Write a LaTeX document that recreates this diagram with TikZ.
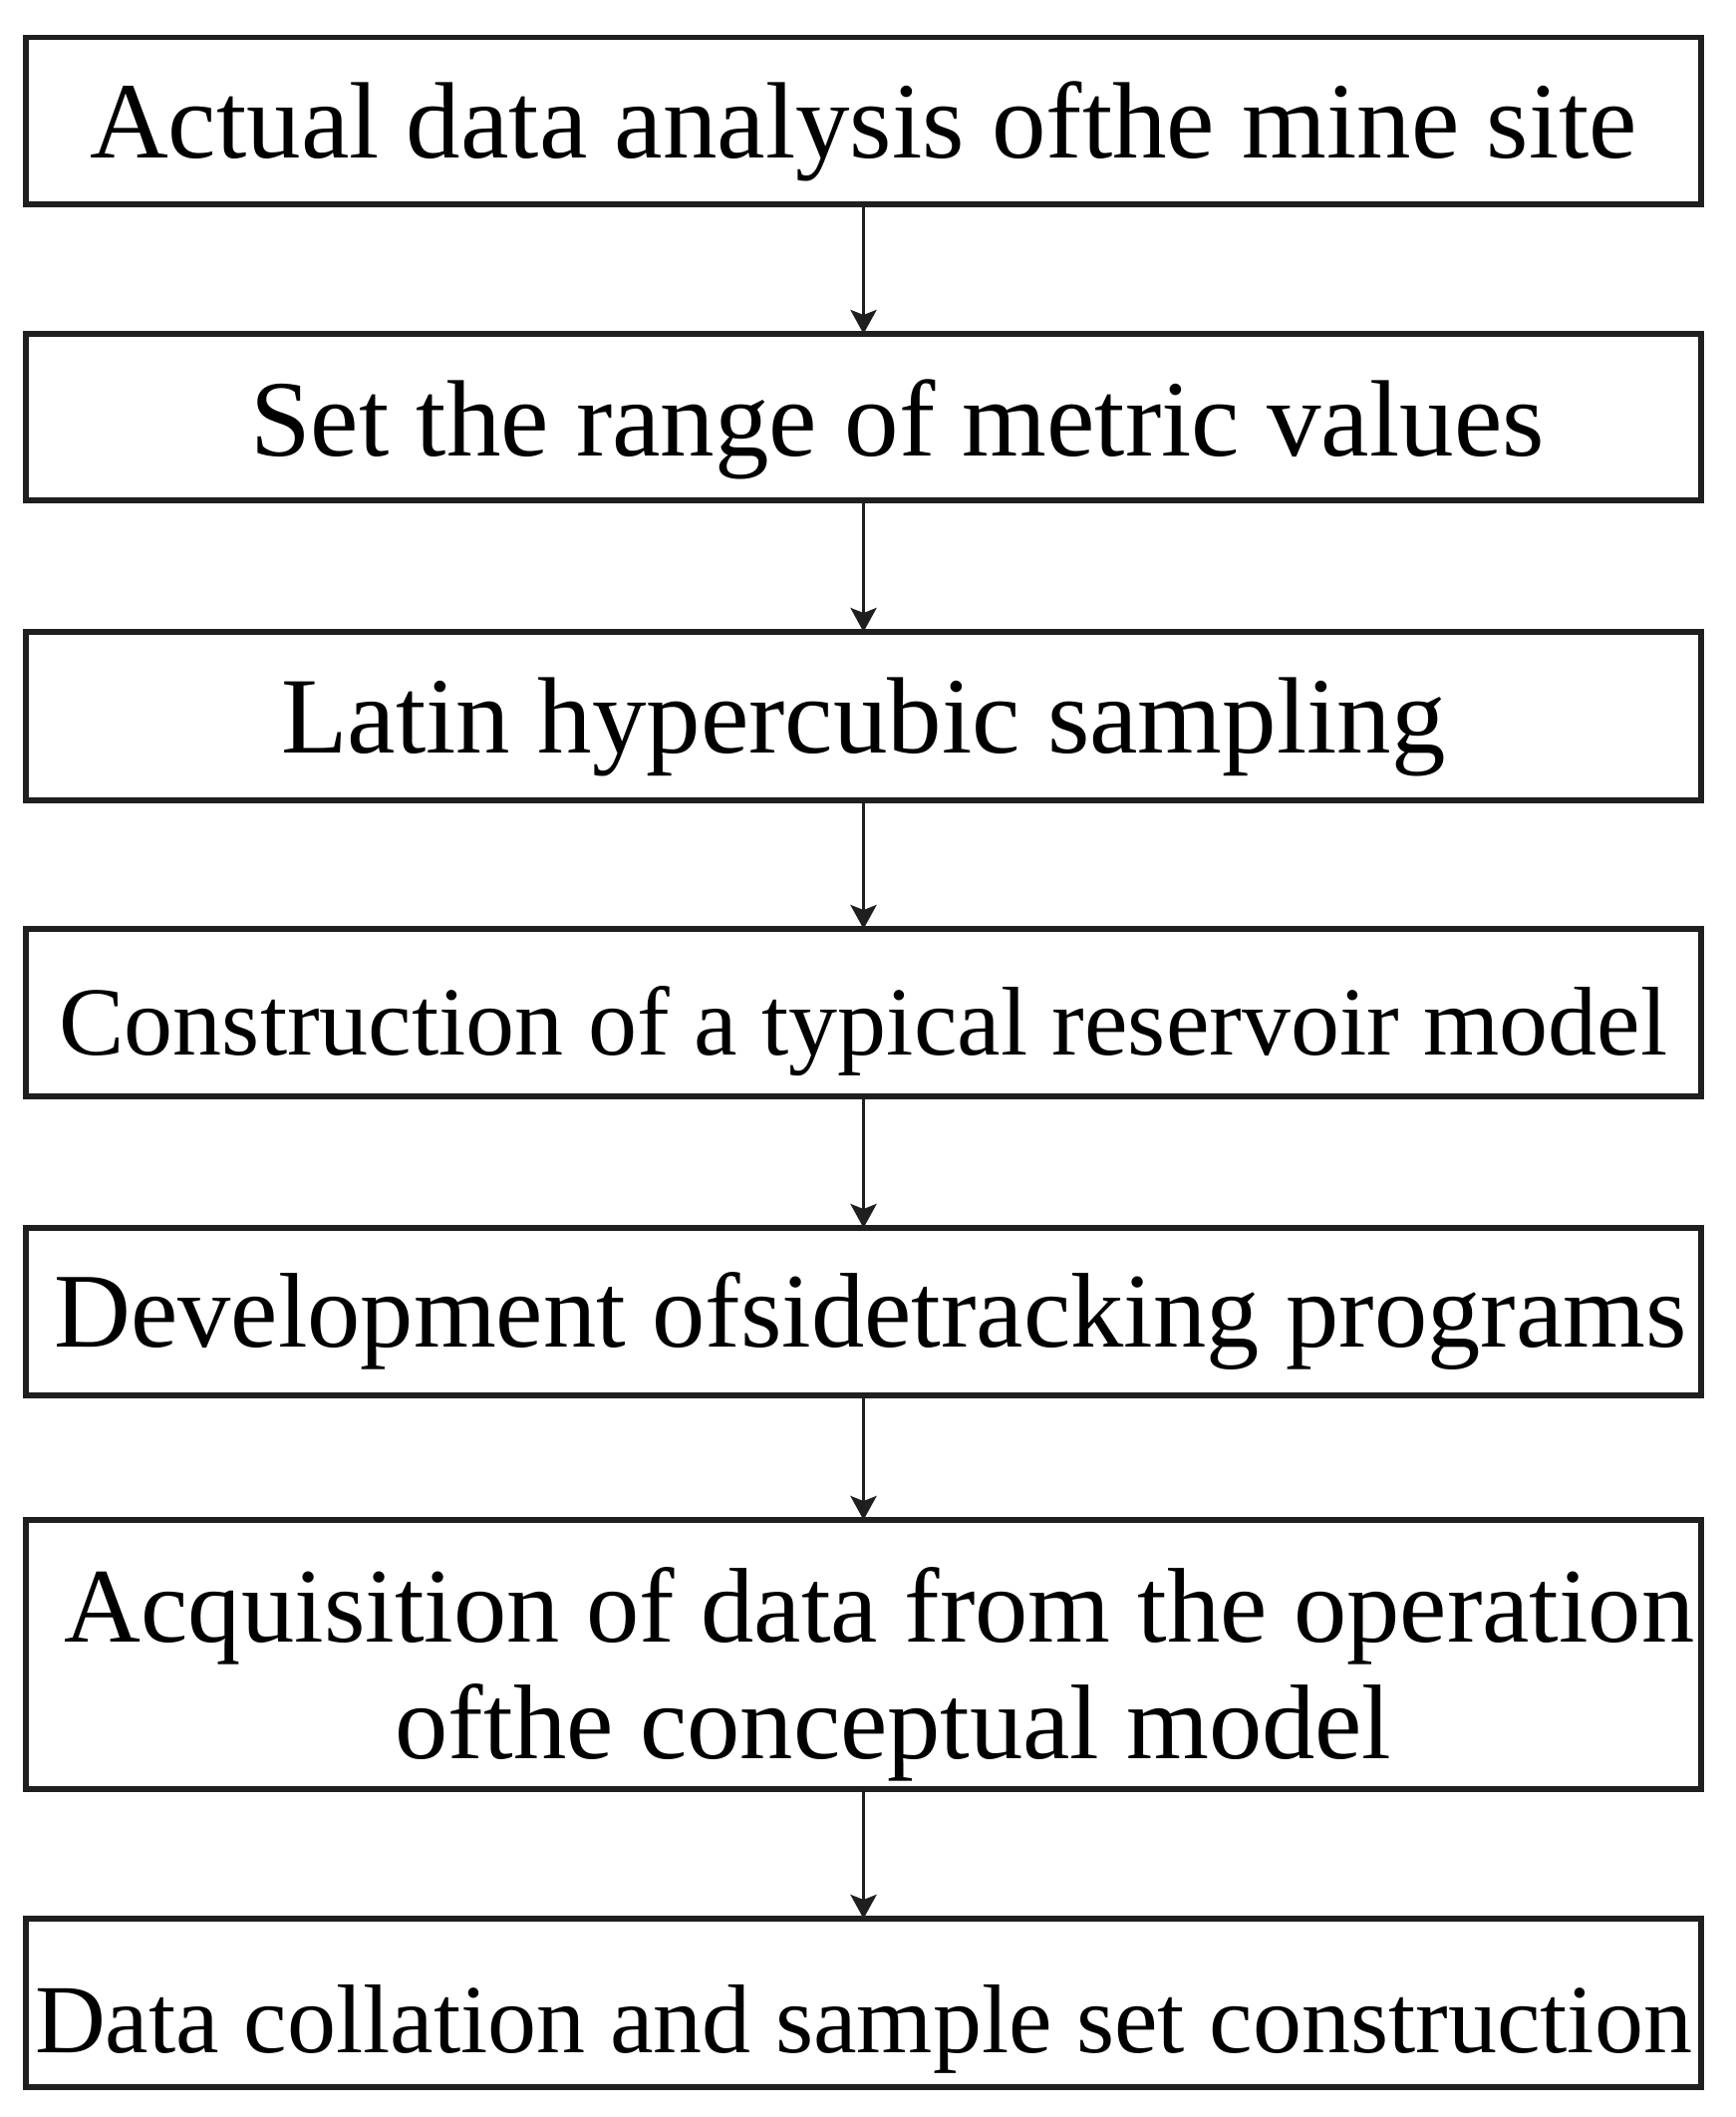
\documentclass[tikz,border=0pt]{standalone}
\usepackage{fontspec}
\setmainfont{Liberation Serif}
\usetikzlibrary{arrows.meta}
\begin{document}
\begin{tikzpicture}[x=0.5pt,y=-0.5pt,
  flowbox/.style={draw=black!88, line width=2.6pt, inner sep=0pt, outer sep=0pt,
    minimum width=840.5pt, text depth=0pt, align=center},
  bigfont/.style={font=\fontsize{54.5pt}{60pt}\selectfont},
  midfont/.style={font=\fontsize{53.25pt}{58.5pt}\selectfont},
  smallfont/.style={font=\fontsize{49pt}{56pt}\selectfont},
  flowarrow/.style={draw=black!88, line width=1.9pt,
    -{Stealth[length=12pt,width=13pt,inset=2.5pt]}}]
\useasboundingbox (0,0) rectangle (1741,2124);
\node[flowbox, bigfont, minimum height=83.75pt, text height=37pt] (b1) at (866.5,121.25)
  {Actual data analysis ofthe mine site};
\node[flowbox, bigfont, minimum height=83.5pt, text height=38.5pt] (b2) at (866.5,418.5)
  {\hspace*{34pt}Set the range of metric values};
\node[flowbox, bigfont, minimum height=84.5pt, text height=36.5pt] (b3) at (866.5,718.5)
  {Latin hypercubic sampling};
\node[flowbox, smallfont, minimum height=84pt, text height=42pt] (b4) at (866.5,1016)
  {Construction of a typical reservoir model};
\node[flowbox, midfont, minimum height=84pt, text height=35pt] (b5) at (866.5,1316)
  {\hspace*{7pt}Development ofsidetracking programs};
\node[flowbox, midfont, minimum height=135pt, text height=104pt] (b6) at (866.5,1660)
  {\hspace*{16pt}Acquisition of data from the operation\\\hspace*{30pt}ofthe conceptual model};
\node[flowbox, smallfont, minimum height=84.5pt, text height=49.5pt] (b7) at (866.5,2009.5)
  {Data collation and sample set construction};
\draw[flowarrow] (b1) -- (b2);
\draw[flowarrow] (b2) -- (b3);
\draw[flowarrow] (b3) -- (b4);
\draw[flowarrow] (b4) -- (b5);
\draw[flowarrow] (b5) -- (b6);
\draw[flowarrow] (b6) -- (b7);
\end{tikzpicture}
\end{document}
